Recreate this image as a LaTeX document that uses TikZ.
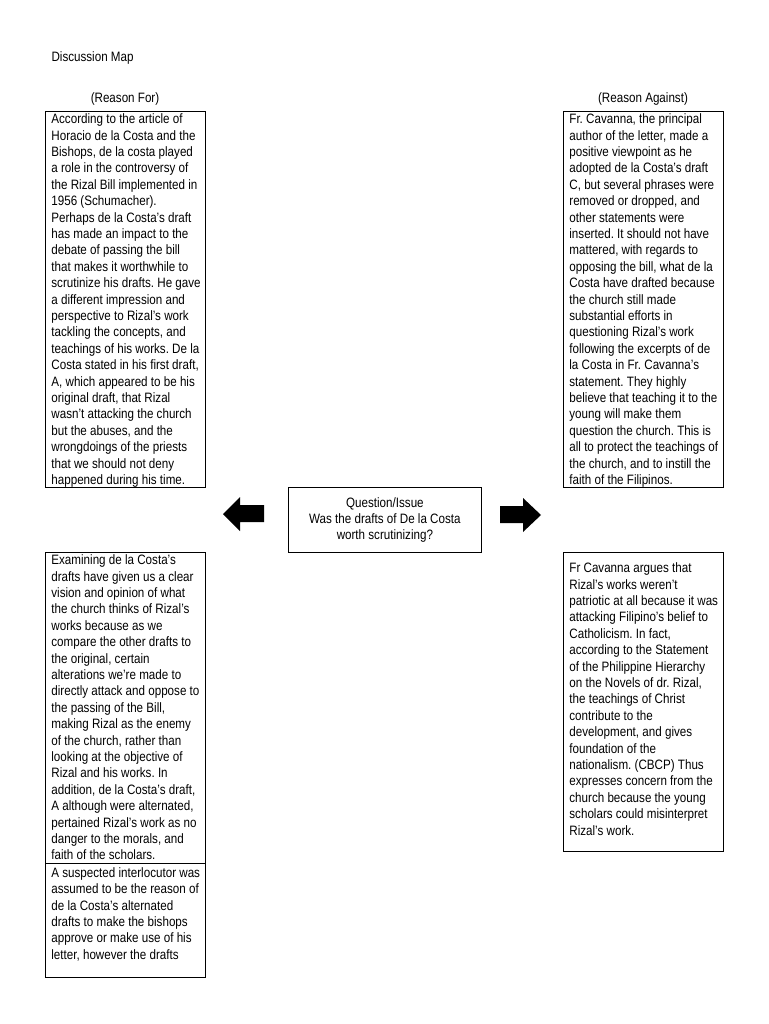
\documentclass[tikz,border=0pt]{standalone}
\usepackage{fontspec}
\setmainfont{Liberation Sans}[FakeStretch=0.855]
\frenchspacing
\newcommand{\boxlines}[2]{\parbox[t][#1][t]{160pt}{\leftskip=6pt\rightskip=0pt plus 1fil\fontsize{13.6pt}{16.4pt}\selectfont #2}}

\begin{document}
\begin{tikzpicture}[x=1pt,y=-1pt]
  \tikzset{reason/.style={draw, line width=.8pt, anchor=north west, inner xsep=0pt, inner ysep=2.5pt, align=left},
           heading/.style={font=\fontsize{13.6pt}{16.4pt}\selectfont}}
  \useasboundingbox (0,0) rectangle (768,1024);
  \fill[white] (0,0) rectangle (768,1024);

    \node[heading, anchor=west] at (48,58) (title) {Discussion Map};
    \node[heading] at (125,99) (forhead) {(Reason For)};
    \node[heading] at (643,99) (againsthead) {(Reason Against)};

    % reasons for
    \node[reason] at (45,111) (for_1) {\boxlines{371pt}{According to the article of\\
      Horacio de la Costa and the\\ Bishops, de la costa played\\ a role in the controversy of\\
      the Rizal Bill implemented in\\ 1956 (Schumacher).\\ Perhaps de la Costa’s draft\\
      has made an impact to the\\ debate of passing the bill\\ that makes it worthwhile to\\
      scrutinize his drafts. He gave\\ a different impression and\\ perspective to Rizal’s work\\
      tackling the concepts, and\\ teachings of his works. De la\\ Costa stated in his first draft,\\
      A, which appeared to be his\\ original draft, that Rizal\\ wasn’t attacking the church\\
      but the abuses, and the\\ wrongdoings of the priests\\ that we should not deny\\
      happened during his time.}};
    \node[reason] at (45,552) (for_2) {\boxlines{306pt}{Examining de la Costa’s\\
      drafts have given us a clear\\ vision and opinion of what\\ the church thinks of Rizal’s\\
      works because as we\\ compare the other drafts to\\ the original, certain\\
      alterations we’re made to\\ directly attack and oppose to\\ the passing of the Bill,\\
      making Rizal as the enemy\\ of the church, rather than\\ looking at the objective of\\
      Rizal and his works. In\\ addition, de la Costa’s draft,\\ A although were alternated,\\
      pertained Rizal’s work as no\\ danger to the morals, and\\ faith of the scholars.}};
    \node[reason] at (45,863) (for_3) {\boxlines{109pt}{\vspace*{1.5pt}A suspected interlocutor was\\
      assumed to be the reason of\\ de la Costa’s alternated\\ drafts to make the bishops\\
      approve or make use of his\\ letter, however the drafts}};

    % reasons against
    \node[reason] at (563,111) (against_1) {\boxlines{371pt}{Fr. Cavanna, the principal\\
      author of the letter, made a\\ positive viewpoint as he\\ adopted de la Costa’s draft\\
      C, but several phrases were\\ removed or dropped, and\\ other statements were\\
      inserted. It should not have\\ mattered, with regards to\\ opposing the bill, what de la\\
      Costa have drafted because\\ the church still made\\ substantial efforts in\\
      questioning Rizal’s work\\ following the excerpts of de\\ la Costa in Fr. Cavanna’s\\
      statement. They highly\\ believe that teaching it to the\\ young will make them\\
      question the church. This is\\ all to protect the teachings of\\ the church, and to instill the\\
      faith of the Filipinos.}};
    \node[reason] at (563,552) (against_2) {\boxlines{294pt}{\vspace*{8pt}Fr Cavanna argues that\\
      Rizal’s works weren’t\\ patriotic at all because it was\\ attacking Filipino’s belief to\\
      Catholicism. In fact,\\ according to the Statement\\ of the Philippine Hierarchy\\
      on the Novels of dr. Rizal,\\ the teachings of Christ\\ contribute to the\\
      development, and gives\\ foundation of the\\ nationalism. (CBCP) Thus\\
      expresses concern from the\\ church because the young\\ scholars could misinterpret\\
      Rizal’s work.}};

    % question
    \node[draw, line width=.8pt, heading, anchor=north west, align=center,
          minimum width=193pt, minimum height=65pt] at (288,487) (issue)
          {Question/Issue\\ Was the drafts of De la Costa\\ worth scrutinizing?};

    \fill (264,505) -- (240,505) -- (240,497) -- (223,514) -- (240,531) -- (240,522) -- (264,522) -- cycle;
    \fill (500,506) -- (523,506) -- (523,498) -- (541,515) -- (523,532) -- (523,523) -- (500,523) -- cycle;
\end{tikzpicture}
\end{document}
